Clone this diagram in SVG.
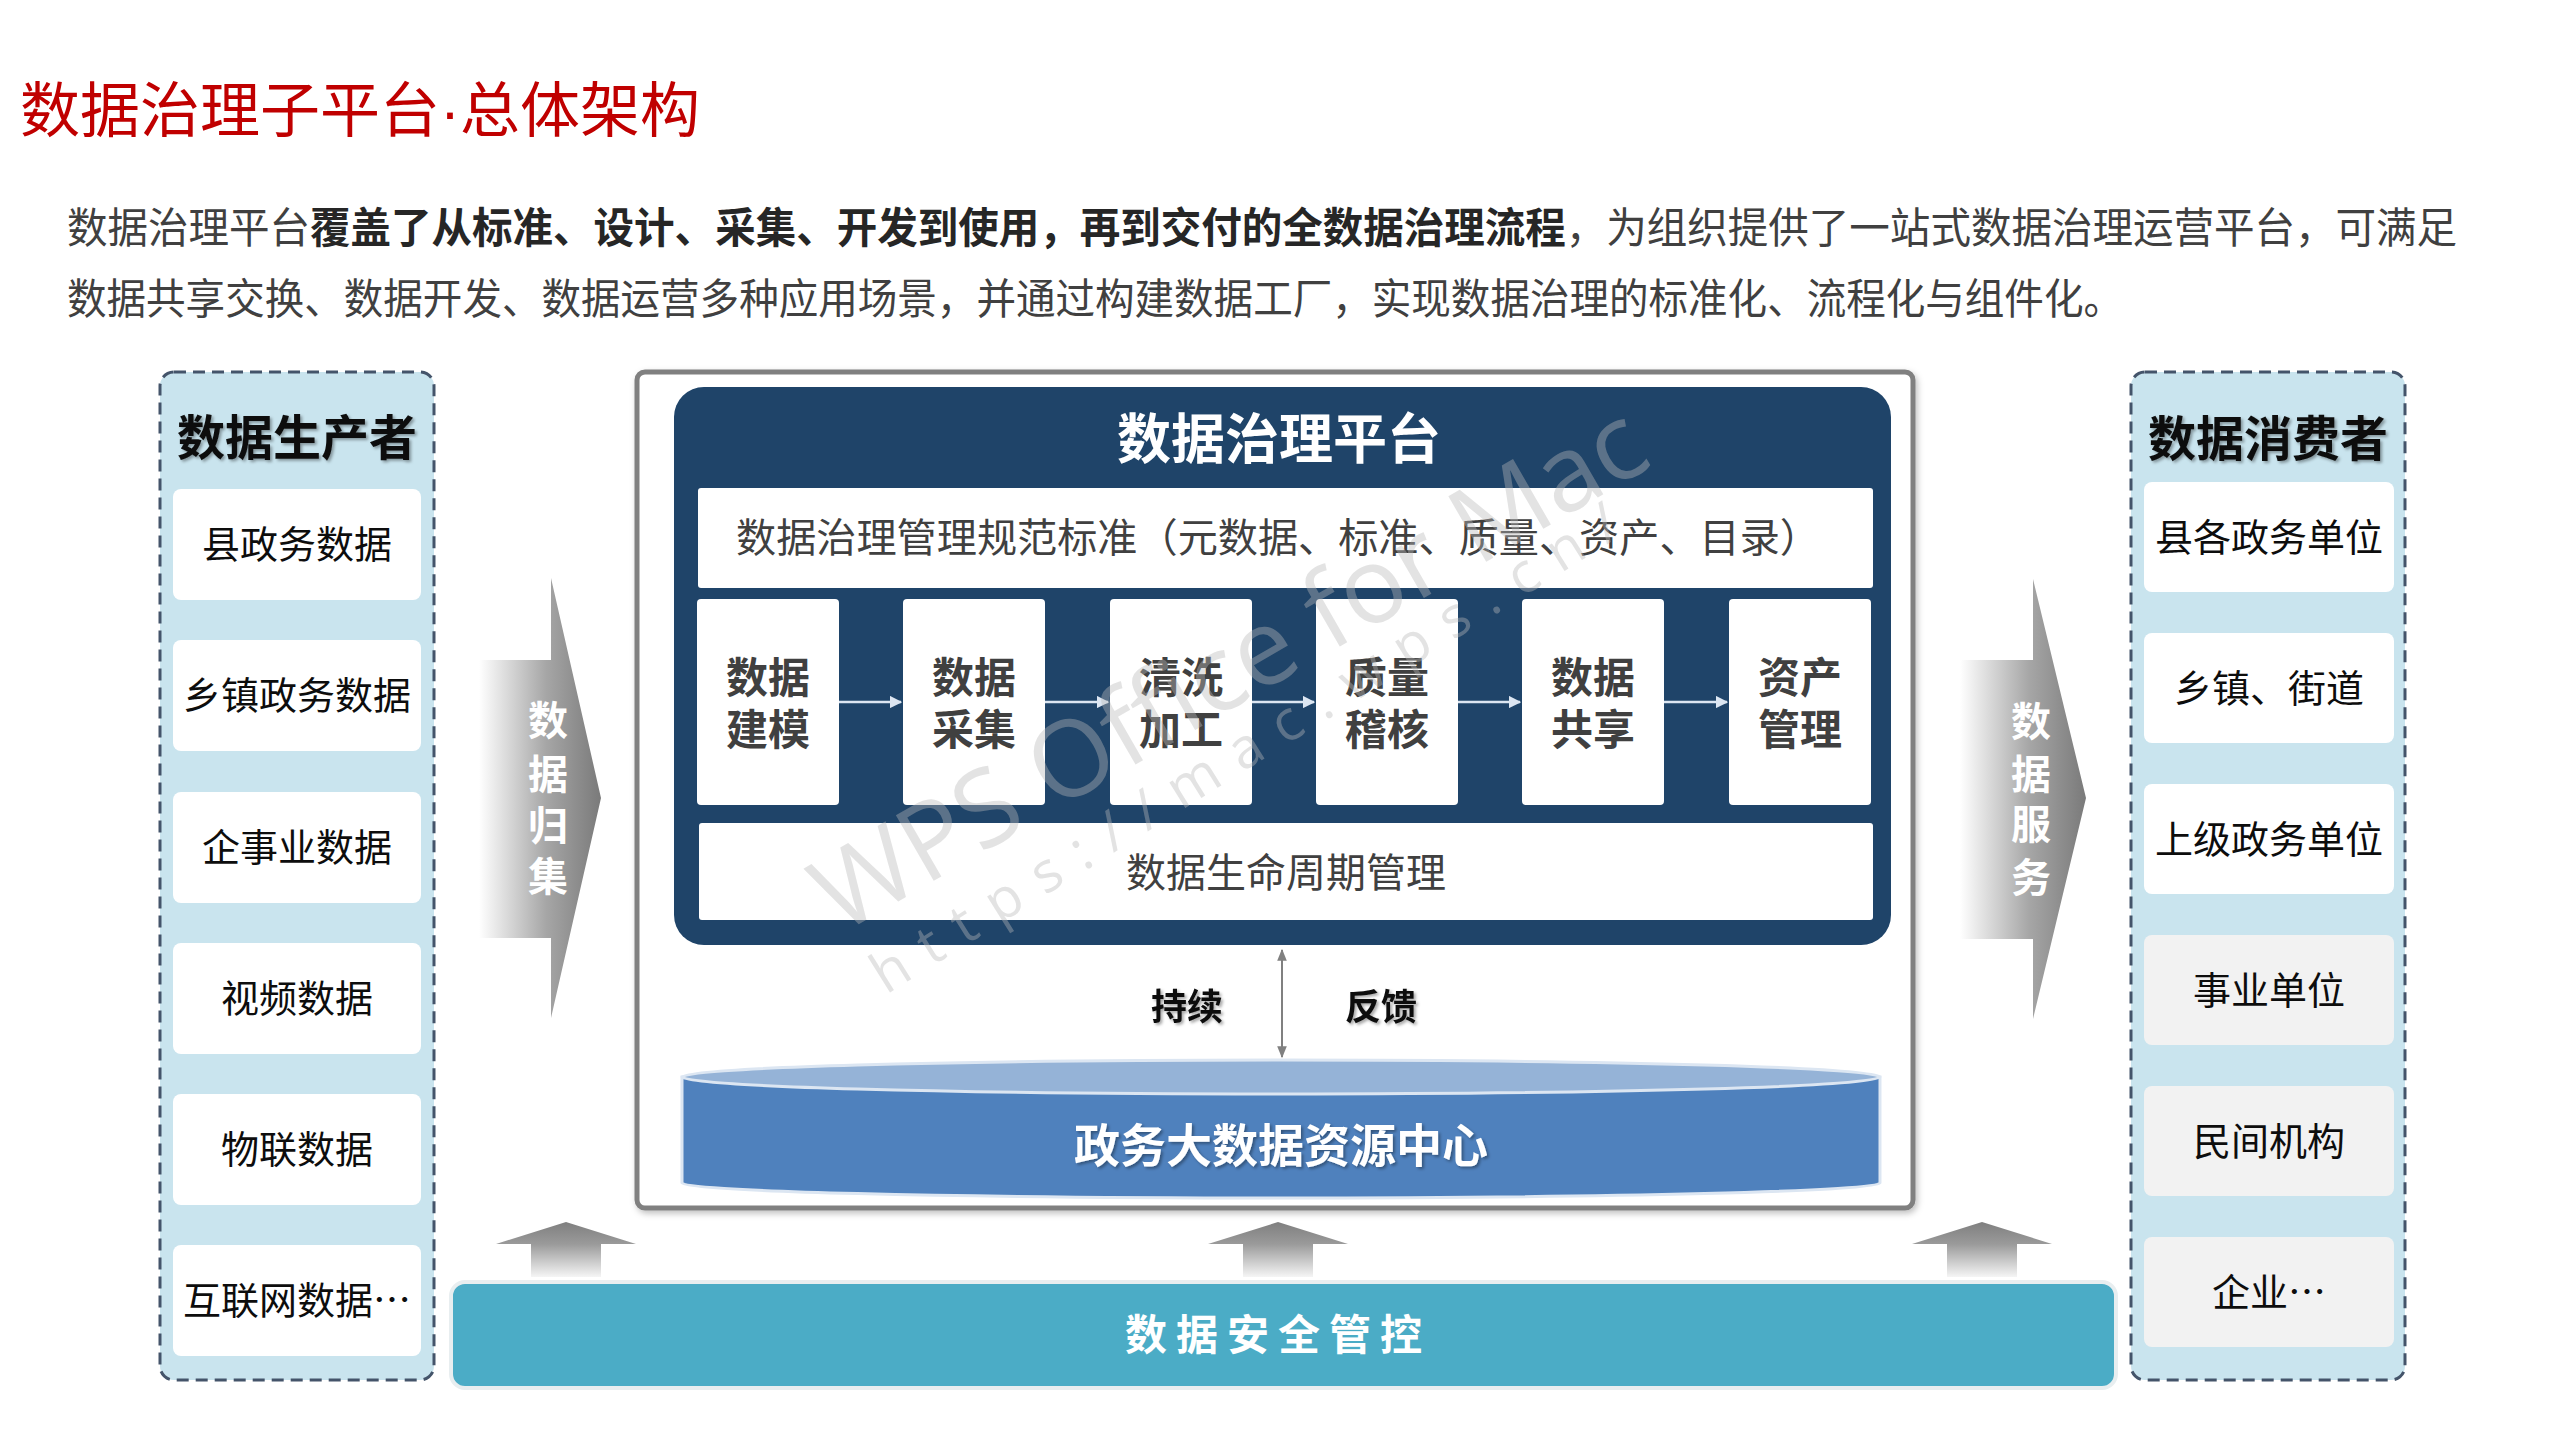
<svg xmlns="http://www.w3.org/2000/svg" width="2560" height="1440" viewBox="0 0 2560 1440">
<defs>
<style>
text{font-family:"Noto Sans CJK SC","Noto Sans",sans-serif;}
.item{font-size:38px;fill:#0d0d0d;text-anchor:middle;}
.hdr{font-size:48px;font-weight:bold;fill:#0d0d0d;text-anchor:middle;}
.proc{font-size:42px;font-weight:bold;fill:#404040;text-anchor:middle;}
.pbox{fill:#ffffff;}
.ibox{fill:#ffffff;}
.gbox{fill:#f2f2f2;}
.panel{fill:#c9e4ee;stroke:#44546a;stroke-width:3;stroke-dasharray:12 7;}
.vt{font-size:40px;font-weight:bold;fill:#ffffff;text-anchor:middle;}
.flow{stroke:#dce6f2;stroke-width:2.5;fill:none;}
.wm{font-family:"Open Sans","Liberation Sans",sans-serif;fill:#b8b8b8;fill-opacity:0.4;}
</style>
<linearGradient id="gArrowH" x1="0" y1="0" x2="1" y2="0">
<stop offset="0" stop-color="#ffffff"/>
<stop offset="0.55" stop-color="#a6a6a6"/>
<stop offset="1" stop-color="#7a7a7a"/>
</linearGradient>
<linearGradient id="gArrowV" x1="0" y1="0" x2="0" y2="1">
<stop offset="0" stop-color="#7f7f7f"/>
<stop offset="0.4" stop-color="#9a9a9a"/>
<stop offset="1" stop-color="#f5f5f5"/>
</linearGradient>
<marker id="mFlow" viewBox="0 0 10 10" refX="9" refY="5" markerWidth="5" markerHeight="5" orient="auto" markerUnits="strokeWidth">
<path d="M0,0 L10,5 L0,10 Z" fill="#dce6f2"/>
</marker>
<marker id="mGray" viewBox="0 0 10 10" refX="9" refY="5" markerWidth="6" markerHeight="6" orient="auto-start-reverse" markerUnits="strokeWidth">
<path d="M0,1 L10,5 L0,9 Z" fill="#808080"/>
</marker>
<filter id="tsh" x="-20%" y="-20%" width="140%" height="140%">
<feDropShadow dx="2" dy="2" stdDeviation="1.5" flood-color="#000000" flood-opacity="0.35"/>
</filter>
<filter id="bsh" x="-5%" y="-5%" width="110%" height="110%">
<feDropShadow dx="2" dy="3" stdDeviation="3" flood-color="#000000" flood-opacity="0.25"/>
</filter>
</defs>

<rect x="0" y="0" width="2560" height="1440" fill="#ffffff"/>

<g id="title">
<text x="20" y="132" font-size="60" fill="#c00000">数据治理子平台<tspan font-family="Liberation Sans, sans-serif">·</tspan>总体架构</text>
</g>

<g id="intro" fill="#404040" font-size="42">
<text x="67" y="243" textLength="2390" lengthAdjust="spacingAndGlyphs">数据治理平台<tspan font-weight="bold" fill="#262626">覆盖了从标准、设计、采集、开发到使用，再到交付的全数据治理流程</tspan>，为组织提供了一站式数据治理运营平台，可满足</text>
<text x="67" y="314" textLength="2056" lengthAdjust="spacingAndGlyphs">数据共享交换、数据开发、数据运营多种应用场景，并通过构建数据工厂，实现数据治理的标准化、流程化与组件化。</text>
</g>

<g id="producers">
<rect class="panel" x="160" y="372" width="274" height="1008" rx="14"/>
<text class="hdr" x="297" y="455" filter="url(#tsh)">数据生产者</text>
<g id="p1"><rect class="ibox" x="173" y="489" width="248" height="111" rx="8"/><text class="item" x="297" y="558">县政务数据</text></g>
<g id="p2"><rect class="ibox" x="173" y="640" width="248" height="111" rx="8"/><text class="item" x="297" y="709">乡镇政务数据</text></g>
<g id="p3"><rect class="ibox" x="173" y="792" width="248" height="111" rx="8"/><text class="item" x="297" y="861">企事业数据</text></g>
<g id="p4"><rect class="ibox" x="173" y="943" width="248" height="111" rx="8"/><text class="item" x="297" y="1012">视频数据</text></g>
<g id="p5"><rect class="ibox" x="173" y="1094" width="248" height="111" rx="8"/><text class="item" x="297" y="1163">物联数据</text></g>
<g id="p6"><rect class="ibox" x="173" y="1245" width="248" height="111" rx="8"/><text class="item" x="297" y="1314">互联网数据…</text></g>
</g>

<g id="consumers">
<rect class="panel" x="2131" y="372" width="274" height="1008" rx="14"/>
<text class="hdr" x="2268" y="456" filter="url(#tsh)">数据消费者</text>
<g id="c1"><rect class="ibox" x="2144" y="482" width="250" height="110" rx="8"/><text class="item" x="2269" y="551">县各政务单位</text></g>
<g id="c2"><rect class="ibox" x="2144" y="633" width="250" height="110" rx="8"/><text class="item" x="2269" y="702">乡镇、街道</text></g>
<g id="c3"><rect class="ibox" x="2144" y="784" width="250" height="110" rx="8"/><text class="item" x="2269" y="853">上级政务单位</text></g>
<g id="c4"><rect class="gbox" x="2144" y="935" width="250" height="110" rx="8"/><text class="item" x="2269" y="1004">事业单位</text></g>
<g id="c5"><rect class="gbox" x="2144" y="1086" width="250" height="110" rx="8"/><text class="item" x="2269" y="1155">民间机构</text></g>
<g id="c6"><rect class="gbox" x="2144" y="1237" width="250" height="110" rx="8"/><text class="item" x="2269" y="1306">企业…</text></g>
</g>

<g id="arrow-collect">
<polygon points="479,660 551,660 551,578 601,798 551,1018 551,938 479,938" fill="url(#gArrowH)"/>
<text class="vt" x="548" y="735">数</text>
<text class="vt" x="548" y="789">据</text>
<text class="vt" x="548" y="840">归</text>
<text class="vt" x="548" y="891">集</text>
</g>

<g id="arrow-service">
<polygon points="1960,660 2033,660 2033,579 2086,798 2033,1019 2033,939 1960,939" fill="url(#gArrowH)"/>
<text class="vt" x="2031" y="736">数</text>
<text class="vt" x="2031" y="789">据</text>
<text class="vt" x="2031" y="839">服</text>
<text class="vt" x="2031" y="892">务</text>
</g>

<g id="center-frame">
<rect x="637" y="372" width="1276" height="836" rx="8" fill="#ffffff" stroke="#808080" stroke-width="5" filter="url(#bsh)"/>
</g>

<g id="platform">
<rect x="674" y="387" width="1217" height="558" rx="30" fill="#1f4469"/>
<text x="1279" y="459" font-size="54" font-weight="bold" fill="#ffffff" text-anchor="middle">数据治理平台</text>
</g>

<g id="standards">
<rect x="698" y="488" width="1175" height="100" rx="3" fill="#ffffff"/>
<text x="736" y="552" font-size="40" fill="#404040" textLength="1084" lengthAdjust="spacingAndGlyphs">数据治理管理规范标准（元数据、标准、质量、资产、目录）</text>
</g>

<g id="step1"><rect class="pbox" x="697" y="599" width="142" height="206" rx="4"/><text class="proc" x="768" y="693">数据</text><text class="proc" x="768" y="745">建模</text></g>
<g id="step2"><rect class="pbox" x="903" y="599" width="142" height="206" rx="4"/><text class="proc" x="974" y="693">数据</text><text class="proc" x="974" y="745">采集</text></g>
<g id="step3"><rect class="pbox" x="1110" y="599" width="142" height="206" rx="4"/><text class="proc" x="1181" y="693">清洗</text><text class="proc" x="1181" y="745">加工</text></g>
<g id="step4"><rect class="pbox" x="1316" y="599" width="142" height="206" rx="4"/><text class="proc" x="1387" y="693">质量</text><text class="proc" x="1387" y="745">稽核</text></g>
<g id="step5"><rect class="pbox" x="1522" y="599" width="142" height="206" rx="4"/><text class="proc" x="1593" y="693">数据</text><text class="proc" x="1593" y="745">共享</text></g>
<g id="step6"><rect class="pbox" x="1729" y="599" width="142" height="206" rx="4"/><text class="proc" x="1800" y="693">资产</text><text class="proc" x="1800" y="745">管理</text></g>

<g id="lifecycle">
<rect x="699" y="823" width="1174" height="97" rx="3" fill="#ffffff"/>
<text x="1286" y="887" font-size="40" fill="#404040" text-anchor="middle">数据生命周期管理</text>
</g>

<g id="connectors">
<line class="flow" x1="839" y1="702" x2="901" y2="702" marker-end="url(#mFlow)"/>
<line class="flow" x1="1045" y1="702" x2="1108" y2="702" marker-end="url(#mFlow)"/>
<line class="flow" x1="1252" y1="702" x2="1314" y2="702" marker-end="url(#mFlow)"/>
<line class="flow" x1="1458" y1="702" x2="1520" y2="702" marker-end="url(#mFlow)"/>
<line class="flow" x1="1664" y1="702" x2="1727" y2="702" marker-end="url(#mFlow)"/>
<line x1="1282" y1="950" x2="1282" y2="1057" stroke="#808080" stroke-width="2" marker-start="url(#mGray)" marker-end="url(#mGray)"/>
</g>

<g id="feedback-labels" filter="url(#tsh)">
<text x="1187" y="1020" font-size="36" font-weight="bold" fill="#0d0d0d" text-anchor="middle">持续</text>
<text x="1381" y="1020" font-size="36" font-weight="bold" fill="#0d0d0d" text-anchor="middle">反馈</text>
</g>

<g id="resource-center">
<path d="M682,1077 L682,1183 A599,15 0 0 0 1880,1183 L1880,1077 Z" fill="#4f81bd" stroke="#dce6f2" stroke-width="3"/>
<ellipse cx="1281" cy="1077" rx="599" ry="17" fill="#95b3d7" stroke="#dce6f2" stroke-width="3"/>
<text x="1281" y="1162" font-size="46" font-weight="bold" fill="#ffffff" text-anchor="middle" filter="url(#tsh)">政务大数据资源中心</text>
</g>

<g id="up-arrows" fill="url(#gArrowV)">
<polygon points="566,1222 636,1244 601,1244 601,1277 531,1277 531,1244 496,1244"/>
<polygon points="1278,1222 1348,1244 1313,1244 1313,1277 1243,1277 1243,1244 1208,1244"/>
<polygon points="1982,1222 2052,1244 2017,1244 2017,1277 1947,1277 1947,1244 1912,1244"/>
</g>

<g id="security">
<rect x="451" y="1282" width="1665" height="106" rx="14" fill="#4bacc6" stroke="#e8eef0" stroke-width="4"/>
<text x="1278" y="1350" font-size="42" font-weight="bold" fill="#ffffff" text-anchor="middle" letter-spacing="9">数据安全管控</text>
</g>

<g id="watermark">
<text class="wm" x="840" y="935" font-size="106" transform="rotate(-30 840 935)">WPS Office for Mac</text>
<text class="wm" x="886" y="995" font-size="56" transform="rotate(-32 886 995)" textLength="870" lengthAdjust="spacing">https://mac.wps.cn/</text>
</g>
</svg>
